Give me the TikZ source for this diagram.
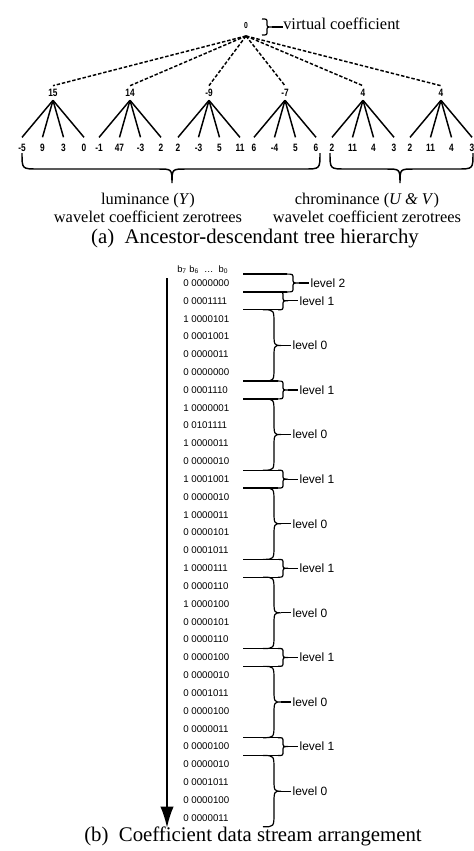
\documentclass[tikz,border=0pt]{standalone}
\usepackage{fontspec}
\setmainfont{Liberation Serif}
\setsansfont{Liberation Sans}
\newfontfamily\treefont{Liberation Sans}[FakeStretch=0.78]
\usetikzlibrary{arrows.meta}
\tikzset{
  brc/.style={line width=0.9pt},
  tline/.style={line width=1.1pt},
  dline/.style={line width=1.1pt, dash pattern=on 2.6pt off 1.4pt},
  lvl/.style={font=\sffamily\fontsize{9}{10}\selectfont, inner sep=1pt},
  bits/.style={font=\sffamily\fontsize{7.3}{8}\selectfont, inner sep=0pt, anchor=west},
  tnum/.style={font=\treefont\bfseries\fontsize{8}{9}\selectfont},
  pnode/.style={tnum, inner xsep=1pt, inner ysep=2.5pt},
  leaf/.style={tnum, inner xsep=0pt, inner ysep=5pt},
  serif12/.style={font=\fontsize{12.3}{14}\selectfont, inner sep=0pt, anchor=base},
  capt/.style={font=\fontsize{15.6}{18}\selectfont, inner sep=0pt, anchor=base},
}
% brace with horizontal-tangent ends at x0, body at x0+a, tip at x0+a+b
\newcommand\bracepath[6]{%
  \pgfmathsetmacro\lbm{(#2+#3)/2}%
  \draw[brc] (#1,#2) .. controls ({#1+#4},#2) .. ({#1+#4},{#2+#6})
     -- ({#1+#4},{\lbm-#6}) .. controls ({#1+#4},\lbm) .. ({#1+#4+#5},\lbm)
     .. controls ({#1+#4},\lbm) .. ({#1+#4},{\lbm+#6})
     -- ({#1+#4},{#3-#6}) .. controls ({#1+#4},#3) .. (#1,#3);
}
\newcommand\levelbrace[8]{%
  \bracepath{#1}{#2}{#3}{#4}{#5}{#6}%
  \coordinate (#7t) at ({#1+#4+#5},\lbm);
  \node[lvl, anchor=west] (#7) at ({#1+#4+#5+10},\lbm) {#8};
  \draw[brc] (#7t) -- (#7.west);
}
\begin{document}
\begin{tikzpicture}[x=0.75pt, y=-0.75pt]
\useasboundingbox (0,0) rectangle (474,851);

% ---------------- (a) tree ----------------
\node[tnum, font=\treefont\bfseries\fontsize{6.5}{7}\selectfont, inner xsep=1pt, inner ysep=5pt] (r) at (246,26) {0};
\bracepath{262}{19}{35}{5}{5}{4}
\coordinate (vct) at (272,27);
\node[serif12, anchor=base west] (vc) at (283,29.5) {virtual coefficient};
\draw[brc] (vct) -- (vc.west |- vct);

\foreach \i/\px/\pl/\la/\lb/\lc/\ld in
  {1/53/15/-5/9/3/0, 2/130/14/-1/47/-3/2, 3/209/-9/2/-3/5/11,
   4/285/-7/6/-4/5/6, 5/363/4/2/11/4/3, 6/441/4/2/11/4/3}{
  \node[pnode] (p\i) at (\px,93) {\pl};
  \draw[dline] (r.south) -- (p\i.north);
  \foreach \j/\off/\txt in {1/-31/\la, 2/-10.5/\lb, 3/10.5/\lc, 4/31/\ld}{
    \node[leaf] (l\i\j) at ({\px+\off},148) {\txt};
    \draw[tline] (p\i.south) -- (l\i\j.north);
  }
}

% big braces
\draw[line width=1.1pt] (22,153) .. controls (22,169) .. (38,169) -- (158,169)
  .. controls (172,169) .. (172,183) .. controls (172,169) .. (186,169)
  -- (304,169) .. controls (320,169) .. (320,153);
\draw[line width=1.1pt] (330,153) .. controls (330,169) .. (346,169) -- (386,169)
  .. controls (400,169) .. (400,183) .. controls (400,169) .. (414,169)
  -- (457,169) .. controls (473,169) .. (473,153);

\node[serif12] (lum1) at (148,204.5) {luminance (\textit{Y})};
\node[serif12] (lum2) at (148,222.5) {wavelet coefficient zerotrees};
\node[serif12] (chr1) at (367,204.5) {chrominance (\textit{U \& V})};
\node[serif12] (chr2) at (367,222.5) {wavelet coefficient zerotrees};

\node[capt] (capa) at (255,243) {(a)\ \ Ancestor-descendant tree hierarchy};

% ---------------- (b) data stream ----------------
\coordinate (ast) at (167,278);
\coordinate (aen) at (167,828);
\draw[line width=1.6pt, -{Latex[length=16pt,width=10pt]}] (ast) -- (aen);

\node[font=\sffamily\fontsize{7}{8}\selectfont, inner sep=0pt, anchor=base west] (hdr) at (177,272)
  {b\textsubscript{7} b\textsubscript{6} \ \ldots\ \ b\textsubscript{0}};

\foreach \k/\t in {1/0 0000000, 2/0 0001111, 3/1 0000101, 4/0 0001001, 5/0 0000011,
  6/0 0000000, 7/0 0001110, 8/1 0000001, 9/0 0101111, 10/1 0000011, 11/0 0000010,
  12/1 0001001, 13/0 0000010, 14/1 0000011, 15/0 0000101, 16/0 0001011,
  17/1 0000111, 18/0 0000110, 19/1 0000100, 20/0 0000101, 21/0 0000110,
  22/0 0000100, 23/0 0000010, 24/0 0001011, 25/0 0000100, 26/0 0000011,
  27/0 0000100, 28/0 0000010, 29/0 0001011, 30/0 0000100, 31/0 0000011}{
  \node[bits] (row\k) at (183,{283+(\k-1)*17.83}) {\t};
}

% level 2
\draw[brc] (243,274.085) -- (287,274.085);
\draw[brc] (243,291.915) -- (287,291.915);
\levelbrace{287}{274.085}{291.915}{6}{6}{4.5}{Ltwo}{level 2}

% level 1
\foreach \k in {2,7,12,17,22,27}{
  \pgfmathsetmacro\ya{274.085+17.83*(\k-1)}
  \pgfmathsetmacro\yb{274.085+17.83*\k}
  \draw[brc] (243,\ya) -- (278,\ya);
  \draw[brc] (243,\yb) -- (278,\yb);
  \levelbrace{278}{\ya}{\yb}{5}{5}{4.5}{Lone\k}{level 1}
}

% level 0
\foreach \s in {3,8,13,18,23,28}{
  \pgfmathsetmacro\ya{274.085+17.83*(\s-1)}
  \pgfmathsetmacro\yb{274.085+17.83*(\s+3)}
  \levelbrace{263}{\ya}{\yb}{11}{7}{14}{Lzero\s}{level 0}
}

\node[capt] (capb) at (253,841) {(b)\ \ Coefficient data stream arrangement};
\end{tikzpicture}
\end{document}
